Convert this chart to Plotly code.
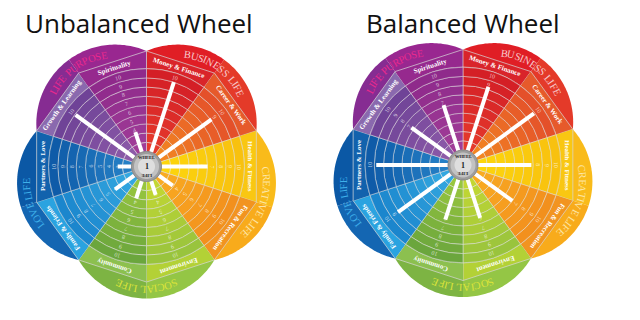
import numpy as np
import plotly.graph_objects as go

# ---------------- data ----------------
categories = ["Money & Finance", "Career & Work", "Health & Fitness", "Fun & Recreation",
              "Environment", "Community", "Family & Friends", "Partners & Love",
              "Growth & Learning", "Spirituality"]
life_areas = ["BUSINESS LIFE", "CREATIVE LIFE", "SOCIAL LIFE", "LOVE LIFE", "LIFE PURPOSE"]
ring_levels = [2, 3, 4, 5, 6, 7, 8, 9, 10]
unbalanced_scores = [9.0, 8.1, 6.0, 2.9, 2.6, 3.0, 3.6, 2.5, 8.9, 3.3]
balanced_scores = [8.3, 8.9, 6.8, 6.0, 5.4, 5.6, 8.1, 8.8, 6.3, 6.2]
wheel_titles = ["Unbalanced Wheel", "Balanced Wheel"]

# ---------------- styles ----------------
ring_inner = ['#e53a2c', '#f28522', '#fdd60c', '#f9ab21', '#c3d733',
              '#98c63e', '#33a7e0', '#2580c6', '#8c5aa8', '#a03d98']
ring_outer = ['#d41f26', '#e4502a', '#f8c10f', '#f2901d', '#99c43d',
              '#6ba63d', '#1b86cd', '#0f5ba8', '#6f4397', '#8f2a8b']
band_col = ['#d9242a', '#e65a2b', '#f9c712', '#f29420', '#b3d136',
            '#8cc04f', '#2aa3e0', '#1262ad', '#8a69ae', '#96298e']
petal_half_col = [('#e01e25', '#e43a29'), ('#f9bb1a', '#f8ab1b'), ('#94c645', '#7db443'),
                  ('#1466b2', '#0b58a5'), ('#862c92', '#992790')]
petal_text_col = ['#f7c9cc', '#fde6a6', '#dde43a', '#3fb0ea', '#e9298d']

W, H = 640, 320
HUB_PX, RING_PX = 15.0, 9.2
R0 = 1 - HUB_PX / RING_PX
HALF = 135.0
RMAX = R0 + HALF / RING_PX
CENTERS = [(146.5, 166.5), (463.0, 165.0)]
VERTEX_PX = 115.5
RING10_PX = HUB_PX + 9 * RING_PX
PETAL_D = 53.0
TEXT_R = 69.5
LABEL_PX = 104.0
SERIF = "Liberation Serif, DejaVu Serif, serif"
SEG = 360 / len(categories)

CHAR_W = {'A': .722, 'B': .667, 'C': .667, 'D': .722, 'E': .611, 'F': .556, 'G': .722, 'H': .722,
          'I': .333, 'L': .611, 'N': .722, 'O': .722, 'P': .556, 'R': .667, 'S': .556, 'T': .611,
          'U': .722, 'V': .722, 'W': .944, ' ': .25}


def u(px):
    return R0 + np.asarray(px) / RING_PX


def to_paper(c, r_px, th):
    t = np.radians(th)
    return (c[0] + r_px * np.sin(t)) / W, 1 - (c[1] - r_px * np.cos(t)) / H


def local_to_polar(X, Y):
    return np.hypot(X, Y), np.degrees(np.arctan2(X, Y)) % 360


def norm_angle(a):
    return ((a + 180) % 360) - 180


def mix(c1, c2, t):
    a = [int(c1[i:i + 2], 16) for i in (1, 3, 5)]
    b = [int(c2[i:i + 2], 16) for i in (1, 3, 5)]
    return 'rgb(%d,%d,%d)' % tuple(round(a[k] + (b[k] - a[k]) * t) for k in range(3))


def ann(x, y, text, angle, size, color, family=SERIF):
    return dict(x=x, y=y, xref='paper', yref='paper', text=text, showarrow=False,
                xanchor='center', yanchor='middle', textangle=norm_angle(angle),
                font=dict(family=family, size=size, color=color))


fig = go.Figure()
annotations = []
layout_polars = {}

for w, (center, scores) in enumerate(zip(CENTERS, [unbalanced_scores, balanced_scores])):
    dec_id = 'polar' if w == 0 else 'polar%d' % (2 * w + 1)
    top_id = 'polar%d' % (2 * w + 2)
    dom = dict(x=[(center[0] - HALF) / W, (center[0] + HALF) / W],
               y=[1 - (center[1] + HALF) / H, 1 - (center[1] - HALF) / H])
    for pid in (dec_id, top_id):
        layout_polars[pid] = dict(
            domain=dom, bgcolor='rgba(0,0,0,0)', barmode='overlay',
            radialaxis=dict(range=[R0, RMAX], visible=False),
            angularaxis=dict(rotation=90, direction='clockwise', visible=False))

    # ---- petals (life areas) ----
    for j, area in enumerate(life_areas):
        tm = SEG * (2 * j + 1)
        cx, cy = PETAL_D * np.sin(np.radians(tm)), PETAL_D * np.cos(np.radians(tm))
        ax, ay = VERTEX_PX * np.sin(np.radians(tm - SEG)), VERTEX_PX * np.cos(np.radians(tm - SEG))
        R = np.hypot(ax - cx, ay - cy)
        delta = (tm - np.degrees(np.arctan2(ax - cx, ay - cy))) % 360
        for h in range(2):
            psi = np.linspace(tm - delta, tm, 40) if h == 0 else np.linspace(tm, tm + delta, 40)
            X = cx + R * np.sin(np.radians(psi))
            Y = cy + R * np.cos(np.radians(psi))
            rr, tt = local_to_polar(X, Y)
            if h == 0:
                rr = np.r_[rr, 40, 40]
                tt = np.r_[tt, tm, tm - SEG]
            else:
                rr = np.r_[rr, 40, 40]
                tt = np.r_[tt, tm + SEG, tm]
            fig.add_trace(go.Scatterpolar(r=u(rr), theta=tt, mode='lines', fill='toself',
                                          fillcolor=petal_half_col[j][h], line=dict(width=0),
                                          hoverinfo='skip', subplot=dec_id))
        # curved petal text
        widths = np.array([CHAR_W.get(ch, .6) * 10.5 for ch in area])
        total = widths.sum()
        offs = np.cumsum(widths) - widths / 2 - total / 2
        for ch, off in zip(area, offs):
            if ch == ' ':
                continue
            psi = tm + np.degrees(off / TEXT_R)
            X = cx + TEXT_R * np.sin(np.radians(psi))
            Y = cy + TEXT_R * np.cos(np.radians(psi))
            rr, tt = local_to_polar(X, Y)
            px_, py_ = to_paper(center, rr, tt)
            annotations.append(ann(px_, py_, ch, psi, 10.5, petal_text_col[j]))

    # ---- label bands ----
    for i, cat in enumerate(categories):
        a, b = SEG * i, SEG * (i + 1)
        th = np.linspace(a, b, 15)
        rr = np.r_[np.full(15, RING10_PX), VERTEX_PX, VERTEX_PX]
        tt = np.r_[th, b, a]
        fig.add_trace(go.Scatterpolar(r=u(rr), theta=tt, mode='lines', fill='toself',
                                      fillcolor=band_col[i],
                                      line=dict(width=0.8, color='rgba(215,215,215,0.9)'),
                                      hoverinfo='skip', subplot=dec_id))
        m = a + SEG / 2
        px_, py_ = to_paper(center, LABEL_PX, m)
        annotations.append(ann(px_, py_, '<b>%s</b>' % cat, m, 7, 'white'))

    # ---- rings ----
    th_list, base_list, col_list = [], [], []
    for i in range(len(categories)):
        m = SEG * i + SEG / 2
        for k, n in enumerate(ring_levels):
            th_list.append(m)
            base_list.append(n - 1)
            col_list.append(mix(ring_inner[i], ring_outer[i], k / (len(ring_levels) - 1)))
            px_, py_ = to_paper(center, HUB_PX + RING_PX * (n - 1.5), m)
            annotations.append(ann(px_, py_, str(n), m, 6, 'rgba(255,255,255,0.7)'))
    fig.add_trace(go.Barpolar(r=[1] * len(th_list), theta=th_list, base=base_list,
                              width=[SEG] * len(th_list),
                              marker=dict(color=col_list,
                                          line=dict(color='rgba(225,225,225,0.75)', width=0.7)),
                              hoverinfo='skip', subplot=top_id))

    # ---- score lines ----
    lr, lt = [], []
    for i, s in enumerate(scores):
        m = SEG * i + SEG / 2
        lr += [1, s, None]
        lt += [m, m, None]
    fig.add_trace(go.Scatterpolar(r=lr, theta=lt, mode='lines',
                                  line=dict(color='white', width=4),
                                  hoverinfo='skip', subplot=top_id))

    # ---- hub ----
    circ = np.linspace(0, 360, 73)
    for rad, col in [(HUB_PX, '#9d9d9d'), (12.5, '#c2c2c2'), (8.5, '#dedede')]:
        fig.add_trace(go.Scatterpolar(r=u(np.full(73, rad)), theta=circ, mode='lines', fill='toself',
                                      fillcolor=col,
                                      line=dict(width=0.8 if rad == HUB_PX else 0, color='#7a7a7a'),
                                      hoverinfo='skip', subplot=top_id))
    for txt, rr, ang, size in [('<b>WHEEL</b>', 9, 0, 4.5), ('<b>1</b>', 0, 0, 8),
                               ('<b>LIFE</b>', 9, 180, 4.5)]:
        px_, py_ = to_paper(center, rr, ang)
        annotations.append(ann(px_, py_, txt, ang, size, '#222222'))

# titles
for title, xc in zip(wheel_titles, [138.5, 462.5]):
    annotations.append(ann(xc / W, 1 - 23 / H, title, 0, 26, '#111111', family='Open Sans'))

fig.update_layout(width=W, height=H, margin=dict(l=0, r=0, t=0, b=0),
                  paper_bgcolor='white', plot_bgcolor='white', showlegend=False,
                  annotations=annotations, **layout_polars)
fig.write_html("out.html")
